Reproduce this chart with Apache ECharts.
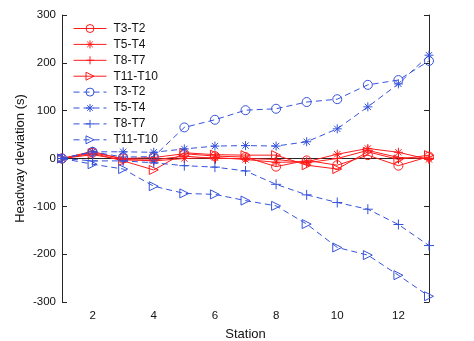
<!DOCTYPE html>
<html><head><meta charset="utf-8">
<script src="https://cdn.jsdelivr.net/npm/echarts@6/dist/echarts.min.js"></script>
<style>html,body{margin:0;padding:0;background:#fff}#c{width:474px;height:341px}</style>
</head><body><div id="c"></div>
<script>
const stations = [1,2,3,4,5,6,7,8,9,10,11,12,13];
const xTicks = [2,4,6,8,10,12];
const names = ['T3-T2','T5-T4','T8-T7','T11-T10'];
const redT3T2   = [0, 12, 0, 2, 10, 5, 3, -17, -4, -14, 7, -15, 4];
const redT5T4   = [0, 15, -2, -5, 0, 2, -2, -8, -7, 9, 21, 13, -2];
const redT8T7   = [0, 8, -3, -3, 5, 0, 0, -2, -9, 0, 17, 2, 0];
const redT11T10 = [0, 11, -5, -24, 12, 8, 7, 7, -14, -22, 14, -2, 7];
const blueT3T2   = [0, 14, 3, 4, 65, 81, 101, 104, 118, 124, 154, 164, 204];
const blueT5T4   = [0, 14, 14, 13, 20, 26, 27, 26, 35, 62, 108, 156, 216];
const blueT8T7   = [0, -5, -5, -9, -15, -18, -26, -54, -76, -92, -106, -138, -182];
const blueT11T10 = [0, -12, -22, -58, -73, -75, -88, -99, -137, -186, -202, -244, -288];

const RED = '#ff1a1a', BLUE = '#3552dc';
const symbols = [
  'path://M1,0A1,1 0 1,1 -1,0A1,1 0 1,1 1,0Z',
  'path://M0,-1L0,1M-1,0L1,0M-0.7,-0.7L0.7,0.7M-0.7,0.7L0.7,-0.7',
  'path://M0,-1L0,1M-1,0L1,0',
  'path://M0,0L1.8,1L0,2Z'
];
const sizes = [9, 9, 10, 9];
function mk(name, data, color, idx, dashed){
  return {
    name, type:'line', data: stations.map((s,i)=>[s,data[i]]),
    symbol: symbols[idx], symbolSize: sizes[idx], showSymbol:true,
    itemStyle:{color:'none', borderColor:color, borderWidth:1},
    lineStyle:{color, width:1, type: dashed ? [6,4] : 'solid'},
    emphasis:{disabled:true}, animation:false, z: dashed?3:2
  };
}
const series = [
  mk(names[0], redT3T2, RED, 0, false),
  mk(names[1], redT5T4, RED, 1, false),
  mk(names[2], redT8T7, RED, 2, false),
  mk(names[3], redT11T10, RED, 3, false),
  mk(names[0] + ' ', blueT3T2, BLUE, 0, true),
  mk(names[1] + ' ', blueT5T4, BLUE, 1, true),
  mk(names[2] + ' ', blueT8T7, BLUE, 2, true),
  mk(names[3] + ' ', blueT11T10, BLUE, 3, true)
];
const axisCol = '#262626';
const font = 'Liberation Sans';
const chart = echarts.init(document.getElementById('c'));
chart.setOption({
  animation:false,
  grid:{left:62, right:45, top:15, bottom:39, outerBoundsMode:'none', containLabel:false},
  legend:{
    show:true, orient:'vertical', left:68, top:17,
    itemWidth:33, itemHeight:10, itemGap:2.9,
    textStyle:{fontFamily:font, fontSize:12, color:'#111', padding:[0,0,0,2]},
    data: series.map((s,i)=>({
      name:s.name,
      itemStyle:{color:'none', borderColor:s.lineStyle.color, borderWidth:1},
      lineStyle:{color:s.lineStyle.color, width:1, type:s.lineStyle.type}
    })),
    selectedMode:false
  },
  xAxis:[{
    type:'value', min:1, max:13, position:'bottom',
    name:'Station', nameLocation:'middle', nameGap:26, nameMoveOverlap:false,
    nameTextStyle:{fontFamily:font, fontSize:13, color:'#111'},
    axisLine:{show:true, lineStyle:{color:axisCol}},
    axisTick:{show:true, inside:true, length:5, customValues:xTicks, lineStyle:{color:axisCol}},
    axisLabel:{customValues:xTicks, fontFamily:font, fontSize:11.5, color:'#111', margin:8},
    splitLine:{show:false}
  },{
    type:'value', min:1, max:13, position:'top',
    axisLine:{show:true, lineStyle:{color:axisCol}},
    axisTick:{show:true, inside:true, length:5, customValues:xTicks, lineStyle:{color:axisCol}},
    axisLabel:{show:false}, splitLine:{show:false}
  }],
  yAxis:[{
    type:'value', min:-300, max:300, interval:100, position:'left',
    name:'Headway deviation (s)', nameLocation:'middle', nameGap:35, nameMoveOverlap:false,
    nameTextStyle:{fontFamily:font, fontSize:13, color:'#111'},
    axisLine:{show:true, lineStyle:{color:axisCol}},
    axisTick:{show:true, inside:true, length:5, lineStyle:{color:axisCol}},
    axisLabel:{fontFamily:font, fontSize:11.5, color:'#111', margin:6},
    splitLine:{show:false}
  },{
    type:'value', min:-300, max:300, interval:100, position:'right',
    axisLine:{show:true, lineStyle:{color:axisCol}},
    axisTick:{show:true, inside:true, length:5, lineStyle:{color:axisCol}},
    axisLabel:{show:false}, splitLine:{show:false}
  }],
  series
});
</script></body></html>
